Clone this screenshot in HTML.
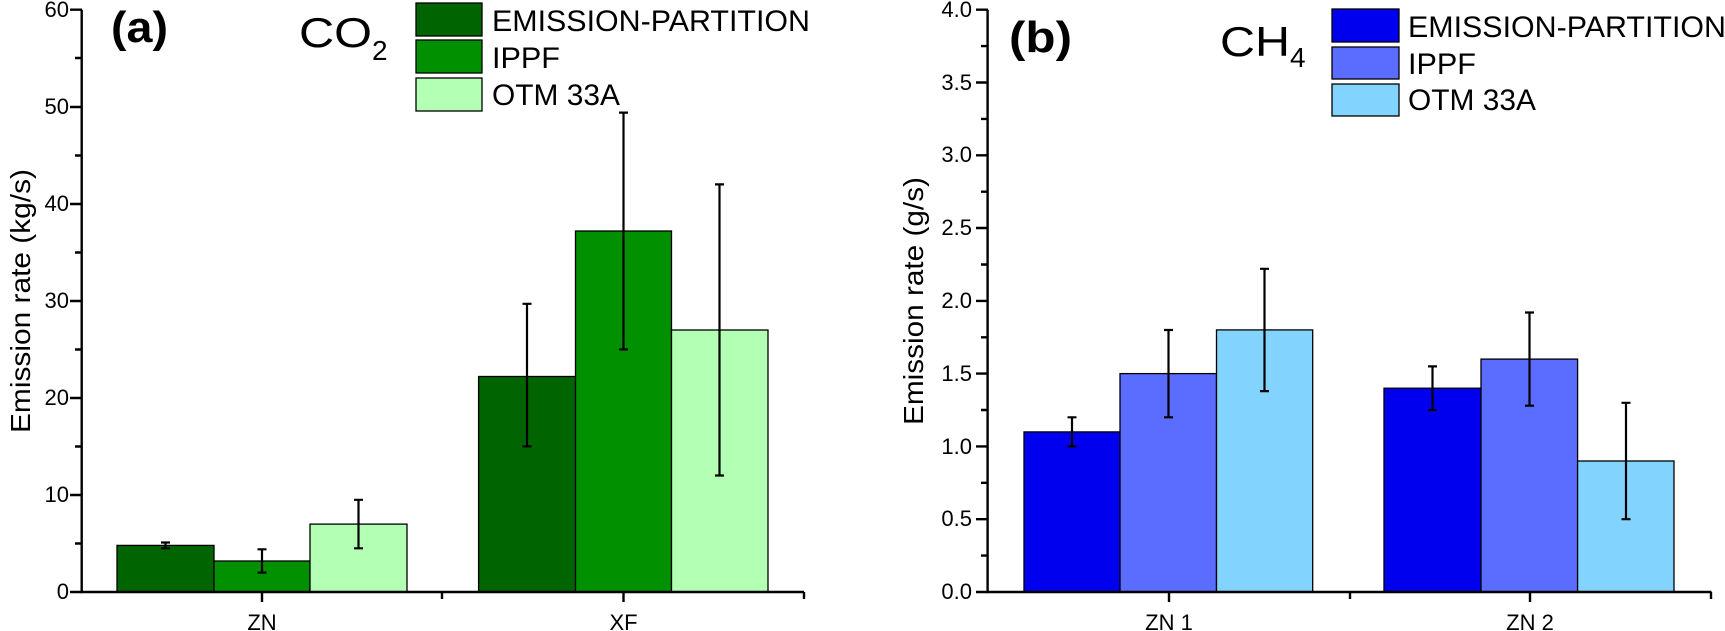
<!DOCTYPE html>
<html><head><meta charset="utf-8"><style>
html,body{margin:0;padding:0;background:#fff}
svg{display:block;font-family:"Liberation Sans",Arial,sans-serif}
</style></head><body>
<svg width="1725" height="631" viewBox="0 0 1725 631" xmlns="http://www.w3.org/2000/svg">
<!-- ========== Panel A ========== -->
<g stroke="#000" stroke-width="1.3">
<rect x="117" y="545.4" width="97" height="46.6" fill="#006400"/>
<rect x="214" y="561" width="96" height="31" fill="#009000"/>
<rect x="310" y="524.1" width="97" height="67.9" fill="#b3ffb3"/>
<rect x="478.6" y="376.5" width="97" height="215.5" fill="#006400"/>
<rect x="575.5" y="231" width="96" height="361" fill="#009000"/>
<rect x="671.5" y="330" width="96.5" height="262" fill="#b3ffb3"/>
</g>
<g stroke="#000" stroke-width="2.2" fill="none">
<path d="M165.5 548.3V542.5M161 548.3h9M161 542.5h9"/>
<path d="M262 572.6V549.3M257.5 572.6h9M257.5 549.3h9"/>
<path d="M358.5 548.3V499.8M354 548.3h9M354 499.8h9"/>
<path d="M527 446.4V303.8M522.5 446.4h9M522.5 303.8h9"/>
<path d="M623.5 349.4V112.6M619 349.4h9M619 112.6h9"/>
<path d="M719.5 475.5V184.4M715 475.5h9M715 184.4h9"/>
</g>
<g stroke="#000" stroke-width="2.4" fill="none">
<path d="M81.7 9.7V592H804"/>
<path d="M70 9.7h12M70 107h12M70 204h12M70 301h12M70 398h12M70 495h12M70 592h12"/>
<path d="M75 58h7M75 155.5h7M75 252.5h7M75 349.5h7M75 446.5h7M75 543.5h7"/>
<path d="M262 592v10M442 592v7M623.5 592v10M804 592v7"/>
</g>
<g font-size="22" text-anchor="end" fill="#000">
<text x="69" y="17">60</text><text x="69" y="114">50</text><text x="69" y="211">40</text>
<text x="69" y="308">30</text><text x="69" y="405">20</text><text x="69" y="502">10</text><text x="69" y="599">0</text>
</g>
<g font-size="22" text-anchor="middle"><text x="262" y="630">ZN</text><text x="623.5" y="630">XF</text></g>
<text transform="translate(30 301) rotate(-90)" font-size="28" text-anchor="middle" textLength="264" lengthAdjust="spacingAndGlyphs">Emission rate (kg/s)</text>
<text x="111" y="42" font-size="44" font-weight="bold" textLength="57" lengthAdjust="spacingAndGlyphs">(a)</text>
<text x="299" y="47" font-size="42" textLength="73" lengthAdjust="spacingAndGlyphs">CO</text>
<text x="372" y="60" font-size="28">2</text>
<g stroke="#000" stroke-width="1.3">
<rect x="416" y="3" width="66" height="33" fill="#006400"/>
<rect x="416" y="40" width="66" height="33" fill="#009000"/>
<rect x="416" y="78" width="66" height="33" fill="#b3ffb3"/>
</g>
<g font-size="30">
<text x="492" y="31" textLength="318" lengthAdjust="spacingAndGlyphs">EMISSION-PARTITION</text>
<text x="492" y="68" textLength="68" lengthAdjust="spacingAndGlyphs">IPPF</text>
<text x="492" y="105" textLength="128" lengthAdjust="spacingAndGlyphs">OTM 33A</text>
</g>
<!-- ========== Panel B ========== -->
<g stroke="#000" stroke-width="1.3">
<rect x="1024" y="431.9" width="96" height="160.1" fill="#0000ee"/>
<rect x="1120" y="373.6" width="96.5" height="218.4" fill="#5b6dff"/>
<rect x="1216.5" y="329.9" width="96.2" height="262.1" fill="#82d4ff"/>
<rect x="1384" y="388.2" width="97" height="203.8" fill="#0000ee"/>
<rect x="1481" y="359.1" width="96.6" height="232.9" fill="#5b6dff"/>
<rect x="1577.6" y="461" width="96.4" height="131" fill="#82d4ff"/>
</g>
<g stroke="#000" stroke-width="2.2" fill="none">
<path d="M1072 446.4V417.3M1067.5 446.4h9M1067.5 417.3h9"/>
<path d="M1168.5 417.3V330M1164 417.3h9M1164 330h9"/>
<path d="M1264.5 391.1V268.8M1260 391.1h9M1260 268.8h9"/>
<path d="M1432.5 410V366.4M1428 410h9M1428 366.4h9"/>
<path d="M1529.5 405.7V312.5M1525 405.7h9M1525 312.5h9"/>
<path d="M1626 519.2V402.8M1621.5 519.2h9M1621.5 402.8h9"/>
</g>
<g stroke="#000" stroke-width="2.4" fill="none">
<path d="M987.6 9.7V592H1711.5"/>
<path d="M976 9.7h12M976 82.5h12M976 155.3h12M976 228h12M976 300.9h12M976 373.6h12M976 446.4h12M976 519.2h12M976 592h12"/>
<path d="M981 46.1h7M981 118.9h7M981 191.7h7M981 264.5h7M981 337.3h7M981 410h7M981 482.8h7M981 555.6h7"/>
<path d="M1169 592v10M1350 592v7M1530 592v10M1711 592v7"/>
</g>
<g font-size="22" text-anchor="end">
<text x="972" y="17">4.0</text><text x="972" y="90">3.5</text><text x="972" y="162">3.0</text>
<text x="972" y="235">2.5</text><text x="972" y="308">2.0</text><text x="972" y="381">1.5</text>
<text x="972" y="454">1.0</text><text x="972" y="526">0.5</text><text x="972" y="599">0.0</text>
</g>
<g font-size="22" text-anchor="middle"><text x="1169" y="630">ZN 1</text><text x="1530" y="630">ZN 2</text></g>
<text transform="translate(923 301) rotate(-90)" font-size="28" text-anchor="middle" textLength="248" lengthAdjust="spacingAndGlyphs">Emission rate (g/s)</text>
<text x="1009" y="52" font-size="44" font-weight="bold" textLength="63" lengthAdjust="spacingAndGlyphs">(b)</text>
<text x="1220" y="56" font-size="42" textLength="70" lengthAdjust="spacingAndGlyphs">CH</text>
<text x="1290" y="67" font-size="28">4</text>
<g stroke="#000" stroke-width="1.3">
<rect x="1332" y="9" width="67" height="33" fill="#0000ee"/>
<rect x="1332" y="47" width="67" height="32" fill="#5b6dff"/>
<rect x="1332" y="84" width="67" height="32" fill="#82d4ff"/>
</g>
<g font-size="30">
<text x="1408" y="37" textLength="318" lengthAdjust="spacingAndGlyphs">EMISSION-PARTITION</text>
<text x="1408" y="74" textLength="68" lengthAdjust="spacingAndGlyphs">IPPF</text>
<text x="1408" y="110" textLength="128" lengthAdjust="spacingAndGlyphs">OTM 33A</text>
</g>
</svg>
</body></html>
